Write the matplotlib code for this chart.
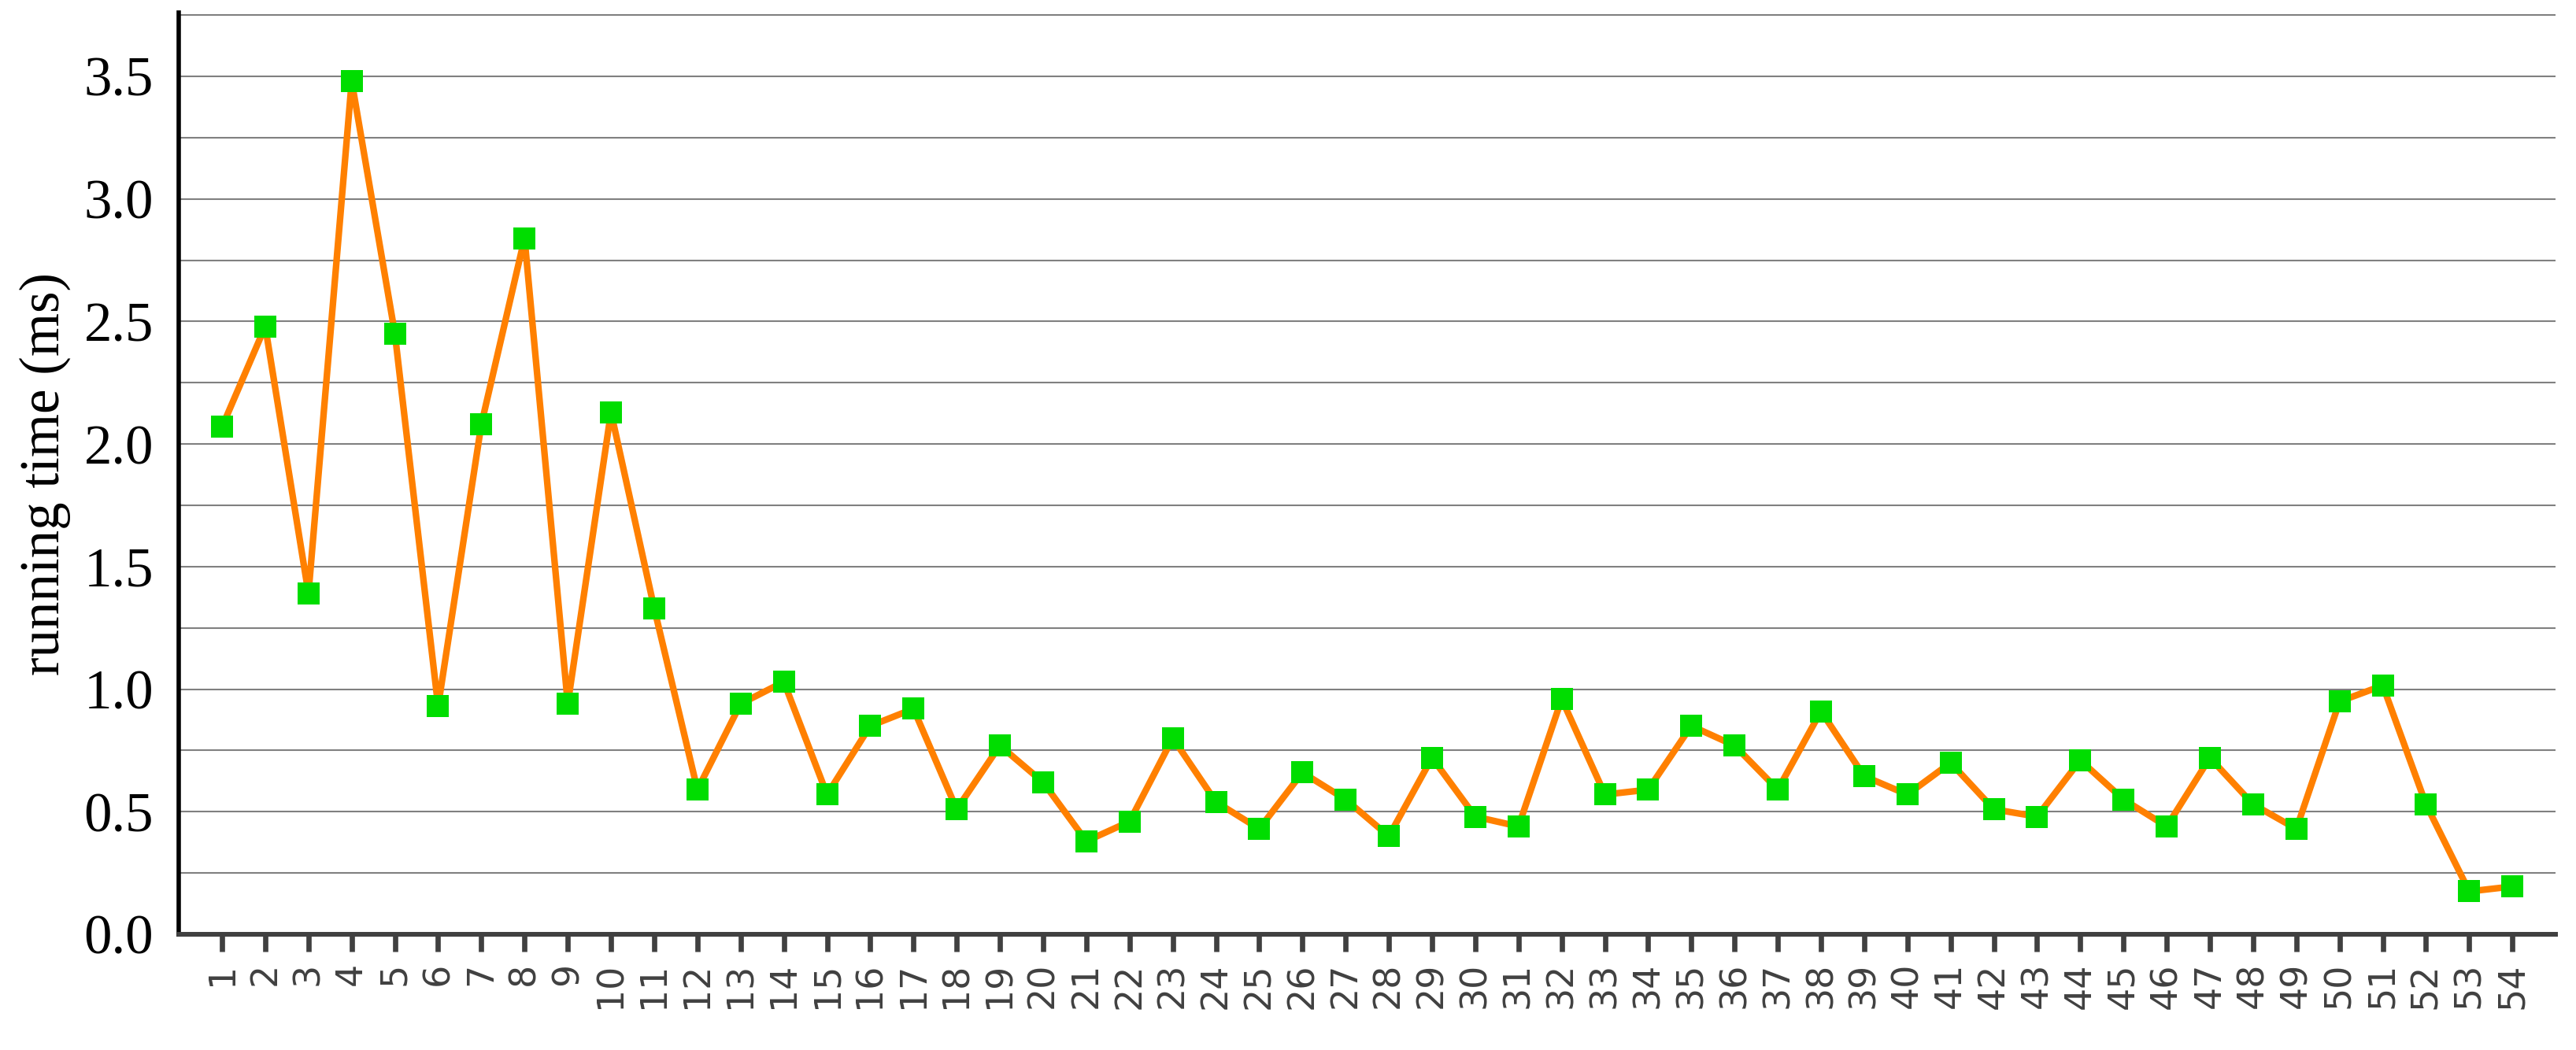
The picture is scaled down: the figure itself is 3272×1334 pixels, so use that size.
import numpy as np
import matplotlib.pyplot as plt
from matplotlib.ticker import MultipleLocator

# run index and measured running time (ms)
runs = list(range(1, 55))
times_ms = [2.07, 2.48, 1.39, 3.48, 2.45, 0.93, 2.08, 2.84, 0.94, 2.13,
            1.33, 0.59, 0.94, 1.03, 0.57, 0.85, 0.92, 0.51, 0.77, 0.62,
            0.38, 0.46, 0.80, 0.54, 0.43, 0.66, 0.55, 0.40, 0.72, 0.48,
            0.44, 0.96, 0.57, 0.59, 0.85, 0.77, 0.59, 0.91, 0.645, 0.57,
            0.70, 0.51, 0.48, 0.71, 0.55, 0.44, 0.72, 0.53, 0.43, 0.95,
            1.015, 0.53, 0.175, 0.195]
y_labels = ['0.0', '0.5', '1.0', '1.5', '2.0', '2.5', '3.0', '3.5']

fig = plt.figure(figsize=(32.73, 13.34), dpi=100)
ax = fig.add_axes([0.0694, 0.1102, 0.9224, 0.8778])

ax.plot(runs, times_ms, color='#ff8000', linewidth=6, marker='s',
        markersize=20.5, markerfacecolor='#00dd00', markeredgewidth=0,
        zorder=3, clip_on=False)

ax.set_xlim(0, 55)
ax.set_ylim(0, 3.76)

# gridlines every 0.25, labels every 0.5
ax.set_yticks(np.arange(0, 3.6, 0.5))
ax.set_yticklabels(y_labels)
ax.yaxis.set_minor_locator(MultipleLocator(0.25))
ax.grid(axis='y', which='both', color='#808080', linewidth=1.5, zorder=1)
ax.set_axisbelow(True)

ax.tick_params(axis='y', which='both', length=0, pad=23, labelsize=51)
for lbl in ax.get_yticklabels():
    lbl.set_family('Liberation Serif')

ax.set_xticks(runs)
ax.set_xticklabels([str(r) for r in runs], rotation=90,
                   fontsize=33, family='DejaVu Sans', color='#404040')
ax.tick_params(axis='x', length=16, width=4.8, color='#404040', pad=10)

ax.set_ylabel('running time (ms)', family='Liberation Serif', fontsize=51,
              labelpad=12)

for s in ['top', 'right']:
    ax.spines[s].set_visible(False)
ax.spines['bottom'].set_color('#404040')
ax.spines['bottom'].set_linewidth(4.3)
ax.spines['left'].set_color('black')
ax.spines['left'].set_linewidth(4)

fig.savefig('out.png', dpi=100)
